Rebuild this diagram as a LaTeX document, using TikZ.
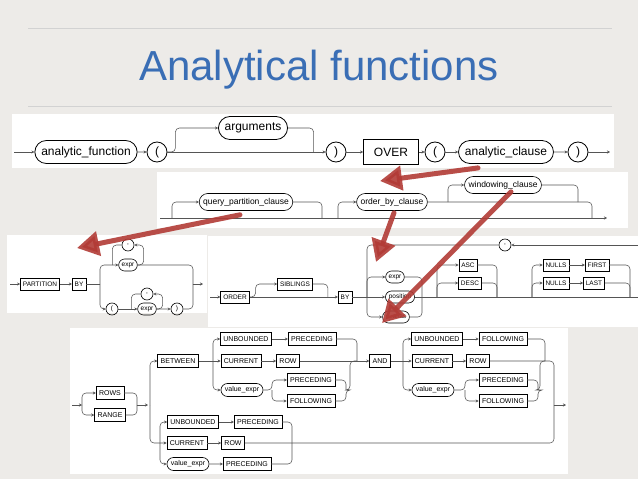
\documentclass[tikz,border=0pt]{standalone}
\usepackage{fontspec}
\setmainfont{Liberation Sans}
\usetikzlibrary{shapes.misc,arrows.meta}
\definecolor{bg}{HTML}{EDEBE8}
\definecolor{ttl}{HTML}{3A6EB5}
\definecolor{brush}{HTML}{B23B36}
\definecolor{ln}{HTML}{555555}
\begin{document}
\begin{tikzpicture}[x=1pt,y=-1pt,
  base/.style={draw=black,line width=.6pt,inner xsep=3pt,inner ysep=0pt,minimum height=13pt,font=\fontsize{7}{8}\selectfont},
  kw/.style={base,rectangle},
  nt/.style={base,rounded rectangle},
  cc/.style={base,circle,minimum size=11pt,inner sep=0pt},
  big/.style={minimum height=23pt,font=\fontsize{12}{13}\selectfont,inner xsep=5pt,line width=.8pt},
  mid/.style={minimum height=17pt,font=\fontsize{8.5}{10}\selectfont},
  sm/.style={minimum height=12pt,font=\fontsize{6.5}{7}\selectfont,inner xsep=2.5pt},
  l/.style={draw=ln,line width=.55pt,rounded corners=4pt},
  a/.style={l,-{Stealth[length=3pt,width=3pt]}},
  red/.style={draw=brush,line width=5pt,line cap=round,-{Triangle[length=22pt,width=24pt]},opacity=.9}]
\useasboundingbox (0,0) rectangle (638,479);
\fill[bg] (0,0) rectangle (638,479);
\draw[gray!35,line width=.5pt] (28,28) -- (612,28);
\draw[gray!35,line width=.5pt] (28,106) -- (612,106);
\node[text=ttl,font=\fontsize{42}{44}\selectfont] (title) at (319,70) {Analytical functions};
% panels
\fill[white] (12,114) rectangle (614,168);
\fill[white] (157,172) rectangle (628,228);
\fill[white] (7,235) rectangle (207,313);
\fill[white] (208,236) rectangle (638,327);
\fill[white] (70,328) rectangle (568,474);

% ---- panel 1
\node[nt,big] (af) at (86,152) {analytic\_function};
\node[cc,big,minimum size=20pt,inner sep=0pt] (lp1) at (157,152) {(};
\node[nt,big] (args) at (253,128) {arguments};
\node[cc,big,minimum size=20pt,inner sep=0pt] (rp1) at (336,152) {)};
\node[kw,big,minimum height=25pt,minimum width=55pt] (over) at (391,152) {OVER};
\node[cc,big,minimum size=20pt,inner sep=0pt] (lp2) at (435,152) {(};
\node[nt,big] (ac) at (506,152) {analytic\_clause};
\node[cc,big,minimum size=20pt,inner sep=0pt] (rp2) at (578,152) {)};
\coordinate (s1) at (14,152); \coordinate (e1) at (610,152);
\draw[a] (s1) -- (af); \draw[a] (af) -- (lp1); \draw[a] (lp1) -- (rp1);
\draw[a] (lp1.east) -- ++(8,0) |- (args.west);
\draw[l] (args.east) -| ([xshift=-12pt]rp1.west);
\draw[a] (rp1) -- (over); \draw[a] (over) -- (lp2); \draw[a] (lp2) -- (ac);
\draw[a] (ac) -- (rp2); \draw[a] (rp2) -- (e1);

% ---- panel 2
\node[nt,mid] (qpc) at (246,202) {query\_partition\_clause};
\node[nt,mid] (obc) at (392,202) {order\_by\_clause};
\node[nt,mid] (wc) at (503,185) {windowing\_clause};
\coordinate (s2) at (160,218); \coordinate (e2) at (607,218);
\draw[a] (s2) -- (e2);
\draw[a] (172,218) |- (qpc.west);
\draw[l] (qpc.east) -| (322,218);
\draw[a] (338,218) |- (obc.west);
\draw[l] (obc.east) -| (592,218);
\draw[a] (448,202) |- (wc.west);
\draw[l] (wc.east) -| (578,202);

% ---- panel 3
\node[kw,sm] (part) at (40,284) {PARTITION};
\node[kw,sm] (by3) at (79,284) {BY};
\node[nt,sm] (ex3a) at (128,265) {expr};
\node[cc,sm] (cm3a) at (128,245) {,};
\node[cc,sm] (lp3) at (112,309) {(};
\node[nt,sm] (ex3b) at (147,309) {expr};
\node[cc,sm] (cm3b) at (147,294) {,};
\node[cc,sm] (rp3) at (177,309) {)};
\draw[a] (10,284) -- (part); \draw[a] (part) -- (by3);
\draw[l] (by3) -- (100,284);
\draw[a] (100,284) |- (ex3a.west);
\draw[l] (ex3a.east) -| (193,284);
\draw[a] (ex3a.east) -- ++(6,0) |- (cm3a.east);
\draw[l] (cm3a.west) -| ([xshift=-6pt]ex3a.west);
\draw[a] (100,284) |- (lp3.west);
\draw[a] (lp3) -- (ex3b); \draw[a] (ex3b) -- (rp3);
\draw[a] (ex3b.east) -- ++(6,0) |- (cm3b.east);
\draw[l] (cm3b.west) -| ([xshift=-6pt]ex3b.west);
\draw[l] (rp3.east) -| (193,284);
\draw[a] (193,284) -- (203,284);

% ---- panel 4
\node[kw,sm] (order) at (235,297) {ORDER};
\node[kw,sm] (sib) at (295,284) {SIBLINGS};
\node[kw,sm] (by4) at (345,297) {BY};
\node[nt,sm] (ex4) at (395,277) {expr};
\node[nt,sm] (pos) at (400,297) {position};
\node[nt,sm] (cal) at (396,317) {c\_alias};
\node[cc,sm] (cm4) at (505,245) {,};
\node[kw,sm] (asc) at (468,265) {ASC};
\node[kw,sm] (desc) at (470,283) {DESC};
\node[kw,sm] (nu1) at (556,265) {NULLS};
\node[kw,sm] (first) at (597,265) {FIRST};
\node[kw,sm] (nu2) at (556,283) {NULLS};
\node[kw,sm] (last) at (594,283) {LAST};
\draw[a] (210,297) -- (order); \draw[a] (order) -- (by4);
\draw[a] (order.east) -- ++(6,0) |- (sib.west);
\draw[l] (sib.east) -| ([xshift=-10pt]by4.west);
\draw[l] (by4) -- (367,297);
\draw[a] (367,297) |- (ex4.west);
\draw[a] (367,297) -- (pos.west);
\draw[a] (367,297) |- (cal.west);
\draw[l] (ex4.east) -| (422,297);
\draw[l] (cal.east) -| (422,297);
\draw[l] (pos.east) -- (638,297);
\draw[a] (638,245) -- (cm4.east);
\draw[l] (cm4.west) -| (367,297);
\draw[a] (437,297) |- (asc.west);
\draw[a] (437,297) |- (desc.west);
\draw[l] (asc.east) -| (497,297);
\draw[l] (desc.east) -| (497,297);
\draw[a] (532,297) |- (nu1.west);
\draw[a] (532,297) |- (nu2.west);
\draw[a] (nu1) -- (first); \draw[a] (nu2) -- (last);
\draw[l] (first.east) -| (630,297);
\draw[l] (last.east) -| (630,297);

% ---- panel 5
\node[kw] (rows) at (110,393) {ROWS};
\node[kw] (range) at (110,415) {RANGE};
\node[kw] (betw) at (178,361) {BETWEEN};
\node[kw] (unb1) at (246,339) {UNBOUNDED};
\node[kw] (pre1) at (312,339) {PRECEDING};
\node[kw] (cur1) at (241,361) {CURRENT};
\node[kw] (row1) at (288,361) {ROW};
\node[nt] (val1) at (242,390) {value\_expr};
\node[kw] (pre1b) at (311,380) {PRECEDING};
\node[kw] (fol1) at (311,401) {FOLLOWING};
\node[kw] (and) at (380,361) {AND};
\node[kw] (unb2) at (437,339) {UNBOUNDED};
\node[kw] (fol2) at (503,339) {FOLLOWING};
\node[kw] (cur2) at (432,361) {CURRENT};
\node[kw] (row2) at (478,361) {ROW};
\node[nt] (val2) at (433,390) {value\_expr};
\node[kw] (pre2) at (503,380) {PRECEDING};
\node[kw] (fol2b) at (503,401) {FOLLOWING};
\node[kw] (unb3) at (193,422) {UNBOUNDED};
\node[kw] (pre3) at (258,422) {PRECEDING};
\node[kw] (cur3) at (187,443) {CURRENT};
\node[kw] (row3) at (233,443) {ROW};
\node[nt] (val3) at (188,464) {value\_expr};
\node[kw] (pre3b) at (247,464) {PRECEDING};
\draw[a] (72,405) -- (82,405);
\draw[a] (82,405) |- (rows.west);
\draw[a] (82,405) |- (range.west);
\draw[l] (rows.east) -| (137,405);
\draw[l] (range.east) -| (137,405);
\draw[a] (137,405) -- (148,405);
\draw[a] (150,405) |- (betw.west);
\draw[a] (150,405) |- (cur3.west);
\draw[l] (betw) -- (213,361);
\draw[a] (213,361) |- (unb1.west);
\draw[a] (213,361) -- (cur1.west);
\draw[a] (213,361) |- (val1.west);
\draw[a] (unb1) -- (pre1); \draw[a] (cur1) -- (row1);
\draw[a] (val1.east) -- (272,390) |- (pre1b.west);
\draw[a] (272,390) |- (fol1.west);
\draw[l] (pre1b.east) -| (346,390);
\draw[l] (fol1.east) -| (346,390) -- (350,390) |- (357,361);
\draw[l] (pre1.east) -| (357,361);
\draw[a] (row1) -- (and);
\draw[l] (and) -- (403,361);
\draw[a] (403,361) |- (unb2.west);
\draw[a] (403,361) -- (cur2.west);
\draw[a] (403,361) |- (val2.west);
\draw[a] (unb2) -- (fol2); \draw[a] (cur2) -- (row2);
\draw[a] (val2.east) -- (465,390) |- (pre2.west);
\draw[a] (465,390) |- (fol2b.west);
\draw[l] (pre2.east) -| (538,390);
\draw[l] (fol2b.east) -| (538,390) -- (540,390) |- (545,361);
\draw[l] (fol2.east) -| (545,361);
\draw[l] (row2.east) -| (554,405);
\draw[a] (160,443) |- (unb3.west);
\draw[a] (160,443) |- (val3.west);
\draw[a] (unb3) -- (pre3); \draw[a] (cur3) -- (row3); \draw[a] (val3) -- (pre3b);
\draw[l] (pre3.east) -| (292,443);
\draw[l] (pre3b.east) -| (292,443);
\draw[l] (row3.east) -| (554,405);
\draw[a] (554,405) -- (566,405);

% ---- brush arrows
\draw[red] (ac.south west) ++(8,4) -- (380,181);
\draw[red] (qpc.south) ++(-6,4) -- (77,248);
\draw[red] (obc.south) ++(2,2) -- (376,262);
\draw[red] (wc.south) ++(8,-2) -- (382,323);
\end{tikzpicture}
\end{document}
